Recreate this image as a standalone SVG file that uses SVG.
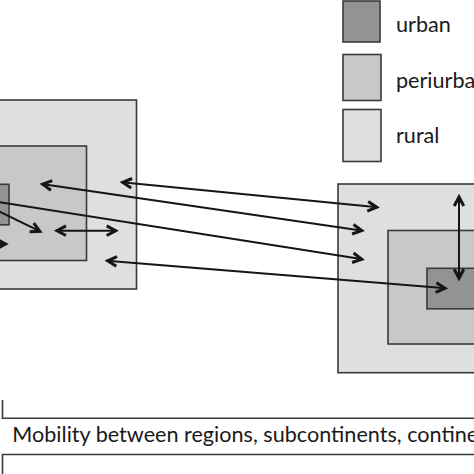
<svg xmlns="http://www.w3.org/2000/svg" width="474" height="474" viewBox="0 0 474 474">
<style>
.box{stroke:#3a3a3a;stroke-width:1.6}
.rural{fill:#dfdfdf}
.peri{fill:#c8c8c8}
.urban{fill:#939393}
.lbl{font-family:Lato,"Liberation Sans",sans-serif;font-size:21.6px;fill:#1a1a1a}
.arr{fill:none;stroke:#151515;stroke-width:2}
</style>
<defs>
<marker id="ah" markerUnits="userSpaceOnUse" markerWidth="20" markerHeight="20" viewBox="-14 -10 20 20" refX="0" refY="0" orient="auto-start-reverse" overflow="visible">
<path d="M-10,-4.8 L-1,0 L-10,4.8" fill="none" stroke="#151515" stroke-width="3" stroke-linejoin="miter"/>
</marker>
</defs>
<rect width="474" height="474" fill="#ffffff"/>
<g id="legend">
<g id="legend-urban"><rect class="box urban" x="343" y="1" width="37" height="41"/><text class="lbl" x="396" y="32">urban</text></g>
<g id="legend-periurban"><rect class="box peri" x="343" y="54.5" width="38" height="46"/><text class="lbl" x="396" y="88">periurban</text></g>
<g id="legend-rural"><rect class="box rural" x="343" y="109.5" width="38" height="52"/><text class="lbl" x="396" y="143">rural</text></g>
</g>
<g id="region-left">
<rect class="box rural" x="-10" y="100" width="146.5" height="189"/>
<rect class="box peri" x="-10" y="146" width="96.5" height="114.5"/>
<rect class="box urban" x="-10" y="184.3" width="19" height="40.5"/>
</g>
<g id="region-right">
<rect class="box rural" x="338" y="184" width="150" height="188.7"/>
<rect class="box peri" x="388" y="230.5" width="100" height="113.5"/>
<rect class="box urban" x="427" y="268.3" width="60" height="40.5"/>
</g>
<g id="connectors">
<line class="arr" x1="121.7" y1="182.3" x2="377.7" y2="207.3" marker-start="url(#ah)" marker-end="url(#ah)"/>
<line class="arr" x1="41.7" y1="184" x2="362.7" y2="230.7" marker-start="url(#ah)" marker-end="url(#ah)"/>
<line class="arr" x1="-2" y1="202" x2="362.7" y2="259.3" marker-end="url(#ah)"/>
<line class="arr" x1="106.7" y1="260.7" x2="446" y2="288.3" marker-start="url(#ah)" marker-end="url(#ah)"/>
<line class="arr" x1="-2" y1="211" x2="40.7" y2="231.7" marker-end="url(#ah)"/>
<line class="arr" x1="56" y1="230.7" x2="116.7" y2="230.7" marker-start="url(#ah)" marker-end="url(#ah)"/>
<line class="arr" x1="-10" y1="244" x2="6.5" y2="244" marker-end="url(#ah)"/>
<line class="arr" x1="459" y1="196" x2="459" y2="279.3" marker-start="url(#ah)" marker-end="url(#ah)"/>
</g>
<g id="scale-arrow">
<path d="M2.5,400 L2.5,418.3 L480,418.3 M2.5,480 L2.5,454.5 L480,454.5" fill="none" stroke="#3a3a3a" stroke-width="1.6"/>
<text class="lbl" x="12.3" y="441.7">Mobility between regions, subcontinents, continents</text>
</g>
</svg>
